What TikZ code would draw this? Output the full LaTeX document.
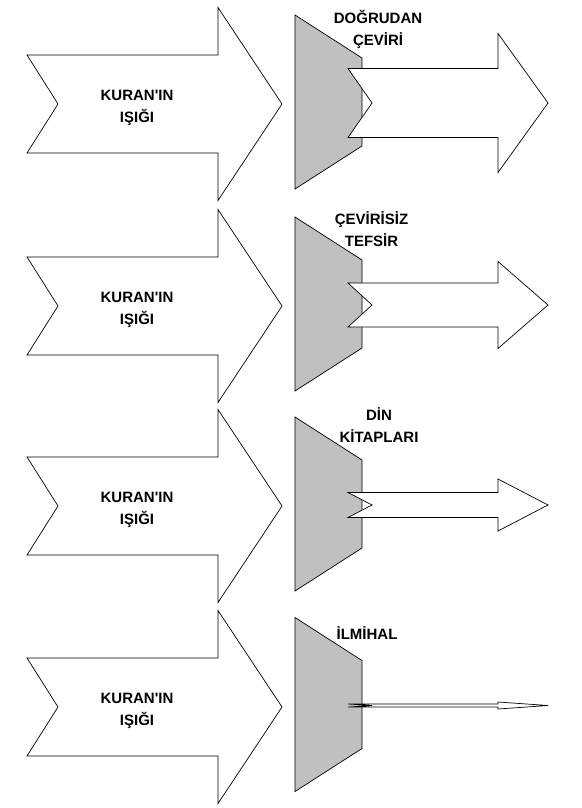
\documentclass[tikz,border=0pt]{standalone}
\usepackage{fontspec}
\setmainfont{Liberation Sans}
\usetikzlibrary{positioning}
\definecolor{panel}{HTML}{C0C0C0}
\tikzset{
  outl/.style={draw=black,line width=0.7pt,line join=miter},
  lightarr/.style={outl,fill=white},
  filterbox/.style={outl,fill=panel},
  txt/.style={font=\fontsize{15}{22}\selectfont\bfseries,align=center,
              inner sep=0pt,text=black},
}

\begin{document}
\begin{tikzpicture}[x=1pt,y=-1pt]
  \useasboundingbox (0,0) rectangle (581,808);

  %% ── big input arrows ─────────────────────────────────────────────────────
  \foreach \c/\n in {104/1,306/2,506/3,707/4}{
    \draw[lightarr] (27,\c-49) -- (218,\c-49) -- (218,\c-96.5) -- (282,\c)
      -- (218,\c+96.5) -- (218,\c+49) -- (27,\c+49) -- (58,\c) -- cycle;
    \node[txt] (light\n) at (137,\c+3.6) {KURAN\textquotesingle IN\\IŞIĞI};
  }

  %% ── filter panels ────────────────────────────────────────────────────────
  \foreach \c/\n in {102/1,304/2,504/3,704.5/4}{
    \draw[filterbox] (295,\c-87) -- (362,\c-44) -- (362,\c+44)
      -- (295,\c+87) -- cycle;
  }

  %% ── outgoing arrows (getting thinner) ────────────────────────────────────
  \foreach \c/\s/\h in {103/34.5/69.5,305/22/43.5,505/12.5/26,705.5/1.5/3.5}{
    \draw[lightarr] (348,\c-\s) -- (498,\c-\s) -- (498,\c-\h) -- (548,\c)
      -- (498,\c+\h) -- (498,\c+\s) -- (348,\c+\s) -- (372,\c) -- cycle;
  }

  %% ── labels ───────────────────────────────────────────────────────────────
  \node[txt] (direct)  at (378,29)    {DOĞRUDAN\\ÇEVİRİ};
  \node[txt] (tefsir)  at (371.5,229) {ÇEVİRİSİZ\\TEFSİR};
  \node[txt] (books)   at (379,425)   {DİN\\KİTAPLARI};
  \node[txt] (ilmihal) at (367,633)   {İLMİHAL};

\end{tikzpicture}
\end{document}
